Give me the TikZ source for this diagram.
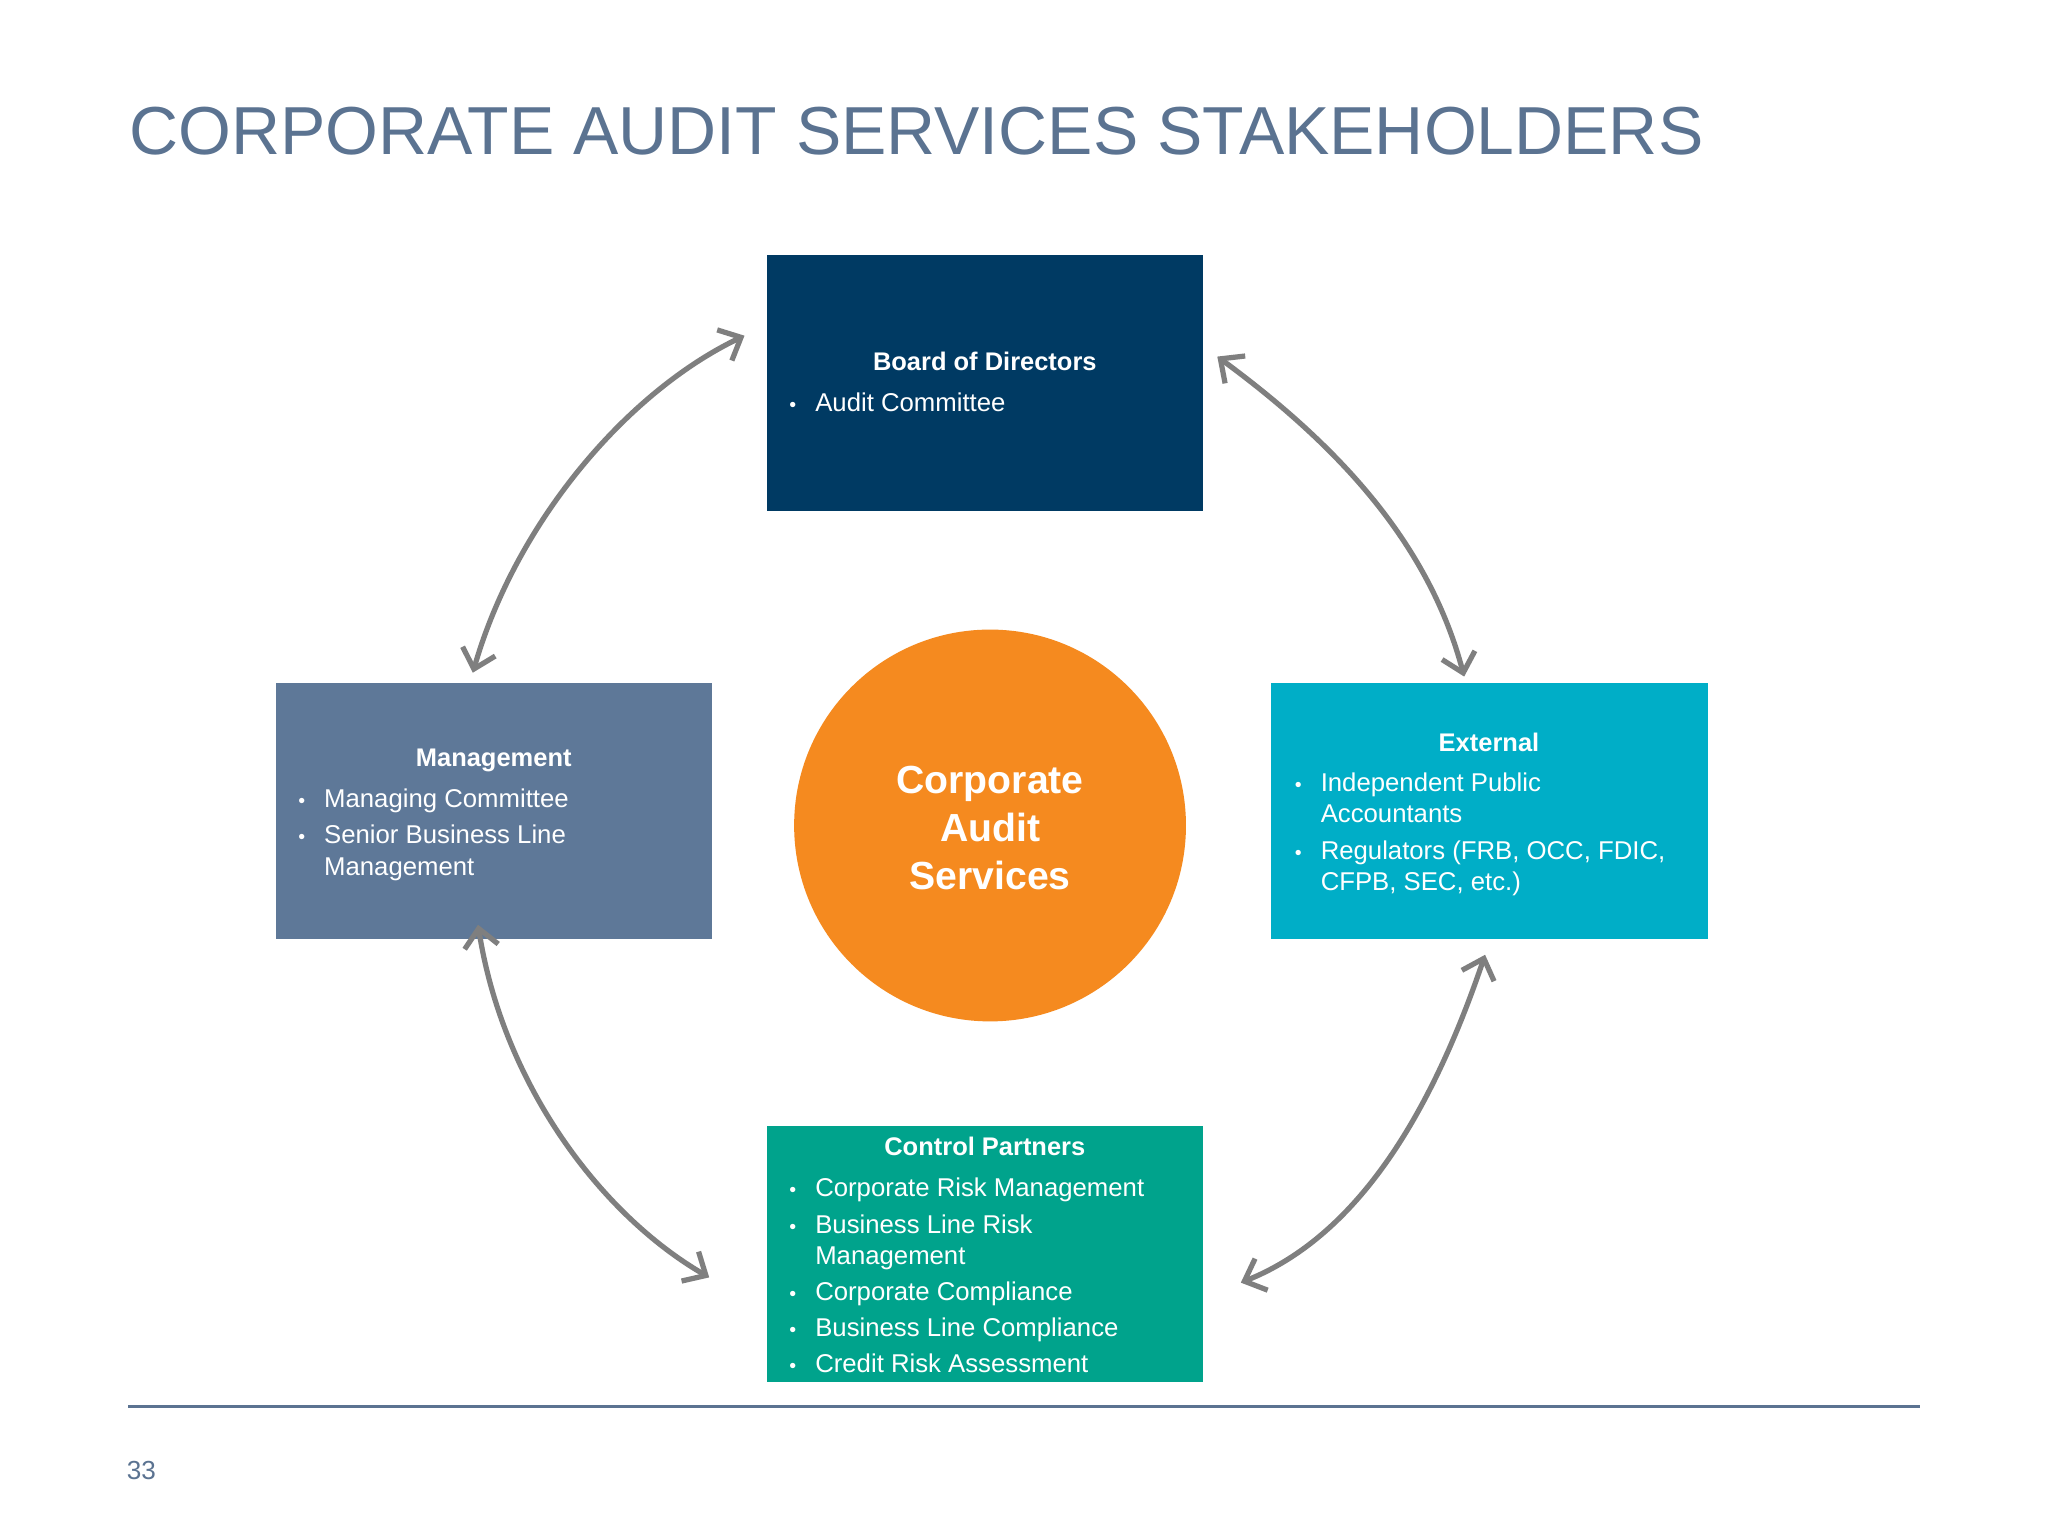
\documentclass[tikz,border=0pt]{standalone}
\usepackage{fontspec}
\setmainfont{Liberation Sans}
\usetikzlibrary{arrows.meta}
\definecolor{titlec}{HTML}{5B7391}
\definecolor{boardc}{HTML}{003A63}
\definecolor{mgmtc}{HTML}{5E7898}
\definecolor{extc}{HTML}{00AEC7}
\definecolor{ctrlc}{HTML}{00A38C}
\definecolor{orangec}{HTML}{F58A1F}
\definecolor{arrowc}{HTML}{7F7F7F}
\tikzset{
  head/.style={text=white,font=\fontsize{19.5}{22}\selectfont\bfseries,anchor=base,inner sep=0pt},
  body/.style={text=white,font=\fontsize{19.7}{24}\selectfont,anchor=base west,inner sep=0pt},
  bul/.style={text=white,font=\fontsize{15}{18}\selectfont,anchor=base,inner sep=0pt},
  link/.style={draw=arrowc,line width=4pt,{Straight Barb[length=14pt,width=26pt,line width=4pt]}-{Straight Barb[length=14pt,width=26pt,line width=4pt]}}
}
\begin{document}
\begin{tikzpicture}[x=1pt,y=-1pt]
\useasboundingbox (0,0) rectangle (1568,1176);
\fill[white] (0,0) rectangle (1568,1176);
\node[anchor=base west,inner sep=0pt,text=titlec,font=\fontsize{52}{60}\selectfont] (title) at (99,118) {CORPORATE AUDIT SERVICES STAKEHOLDERS};
% boxes
\fill[boardc] (587,195) rectangle (921,391);
\fill[mgmtc] (211,523) rectangle (545,719);
\fill[extc] (973,523) rectangle (1308,719);
\fill[ctrlc] (587,862) rectangle (921,1058);
\node[circle,fill=orangec,minimum size=300pt,inner sep=0pt] (cas) at (758,632) {};
\node[text=white,font=\fontsize{30}{36.5}\selectfont\bfseries,align=center] at (758,634) {Corporate\\Audit\\Services};
% board text
\node[head] (bh) at (754,284) {Board of Directors};
\node[bul] at (607,315) {•}; \node[body] at (624,315) {Audit Committee};
% management
\node[head] (mh) at (378,587) {Management};
\node[bul] at (231,618) {•}; \node[body] at (248,618) {Managing Committee};
\node[bul] at (231,646) {•}; \node[body] at (248,646) {Senior Business Line};
\node[body] at (248,670) {Management};
% external
\node[head] (eh) at (1140,575) {External};
\node[bul] at (994,606) {•}; \node[body] at (1011,606) {Independent Public};
\node[body] at (1011,630) {Accountants};
\node[bul] at (994,658) {•}; \node[body] at (1011,658) {Regulators (FRB, OCC, FDIC,};
\node[body] at (1011,682) {CFPB, SEC, etc.)};
% control
\node[head] (ch) at (754,885) {Control Partners};
\node[bul] at (607,916) {•}; \node[body] at (624,916) {Corporate Risk Management};
\node[bul] at (607,944) {•}; \node[body] at (624,944) {Business Line Risk};
\node[body] at (624,968) {Management};
\node[bul] at (607,996) {•}; \node[body] at (624,996) {Corporate Compliance};
\node[bul] at (607,1023) {•}; \node[body] at (624,1023) {Business Line Compliance};
\node[bul] at (607,1051) {•}; \node[body] at (624,1051) {Credit Risk Assessment};
% arrows
\coordinate (a1s) at (362,515); \coordinate (a1e) at (570,257);
\coordinate (a2s) at (932,273); \coordinate (a2e) at (1121,518);
\coordinate (a3s) at (366,708); \coordinate (a3e) at (543,978);
\coordinate (a4s) at (1137,731); \coordinate (a4e) at (950,982);
\draw[link] (a1s) .. controls (395,400) and (480,300) .. (a1e);
\draw[link] (a2s) .. controls (1030,345) and (1095,420) .. (a2e);
\draw[link] (a3s) .. controls (385,830) and (460,930) .. (a3e);
\draw[link] (a4s) .. controls (1090,870) and (1030,950) .. (a4e);
% footer
\coordinate (r1) at (98,1077); \coordinate (r2) at (1470,1077);
\draw[titlec,line width=2pt] (r1) -- (r2);
\node[anchor=base west,inner sep=0pt,text=titlec,font=\fontsize{20}{24}\selectfont] (pg) at (97,1133) {33};
\end{tikzpicture}
\end{document}
